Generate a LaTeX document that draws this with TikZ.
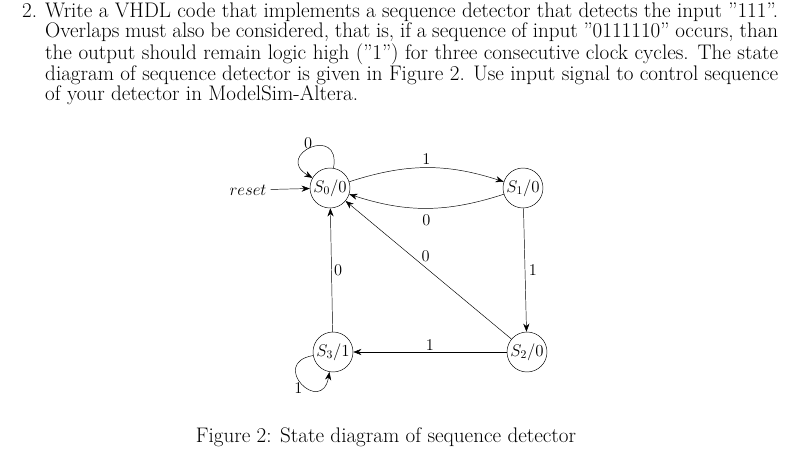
\documentclass[tikz,border=0pt]{standalone}
\usepackage{tikz}
\usetikzlibrary{arrows.meta}
\begin{document}
\begin{tikzpicture}[x=0.03cm,y=-0.03cm,
    state/.style={draw, circle, minimum size=40*0.03cm, inner sep=0pt, font=\fontsize{14}{16}\selectfont},
    lbl/.style={font=\fontsize{14}{16}\selectfont, inner sep=1pt},
    every edge/.style={draw, -{Stealth[length=7pt]}}]
        \useasboundingbox (0,0) rectangle (790,460);
        % Question text
        \node[anchor=north west, inner sep=0pt] (num) at (22,3) {\fontsize{18}{20.5}\selectfont 2.};
        \node[anchor=north west, inner sep=0pt, text width=733*0.03cm, align=justify] (text) at (45,3)
            {\fontsize{18}{20.5}\selectfont Write a VHDL code that implements a sequence detector that detects the input ”111”.\linebreak
             Overlaps must also be considered, that is, if a sequence of input ”0111110” occurs, than\linebreak
             the output should remain logic high (”1”) for three consecutive clock cycles. The state\linebreak
             diagram of sequence detector is given in Figure 2. Use input signal to control sequence\linebreak
             of your detector in ModelSim-Altera.};
        
        % States
        \node[state] (s0) at (330,188) {$S_0/0$};
        \node[state] (s1) at (523,188) {$S_1/0$};
        \node[state] (s2) at (527,352) {$S_2/0$};
        \node[state] (s3) at (333,352) {$S_3/1$};
        \node[font=\fontsize{15}{16}\selectfont] (reset) at (248,190) {$reset$};
        
        % Edges
        \draw (reset) edge (s0)
              (s0) edge[bend left=18] node[lbl, above=2pt] {1} (s1)
              (s1) edge[bend left=18] node[lbl, below=4pt] {0} (s0)
              (s1) edge node[lbl, right=2pt] {1} (s2)
              (s2) edge node[lbl, pos=0.55, above right=0pt] {0} (s0)
              (s2) edge node[lbl, above] {1} (s3)
              (s3) edge node[lbl, right=1pt] {0} (s0)
              (s0) edge[in=150, out=80, looseness=5] node[lbl, above left=-2pt] {0} (s0)
              (s3) edge[in=260, out=190, looseness=5] node[lbl, below left=-2pt] {1} (s3);
        
        % Caption
        \node[font=\fontsize{18}{20}\selectfont] (cap) at (386,437) {Figure 2: State diagram of sequence detector};
\end{tikzpicture}
\end{document}
